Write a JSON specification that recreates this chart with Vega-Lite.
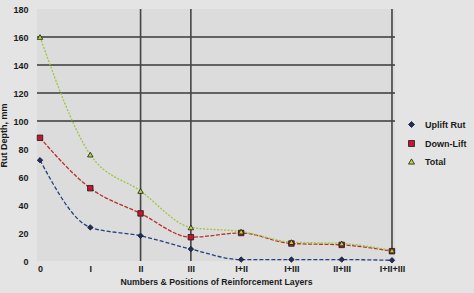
{
  "$schema": "https://vega.github.io/schema/vega-lite/v6.json",
  "autosize": {"type": "none"},
  "width": 358,
  "height": 252,
  "padding": {"left": 37, "top": 9, "right": 79, "bottom": 32},
  "background": "#e4e4e4",
  "config": {
    "view": {"stroke": null, "fill": "#dcdcdc"},
    "font": "Liberation Sans, sans-serif",
    "axis": {"grid": false}
  },
  "datasets": {
    "series": [
      {"layers": "0", "series": "Uplift Rut", "depth": 72},
      {"layers": "I", "series": "Uplift Rut", "depth": 24},
      {"layers": "II", "series": "Uplift Rut", "depth": 18},
      {"layers": "III", "series": "Uplift Rut", "depth": 8.5},
      {"layers": "I+II", "series": "Uplift Rut", "depth": 1},
      {"layers": "I+III", "series": "Uplift Rut", "depth": 1},
      {"layers": "II+III", "series": "Uplift Rut", "depth": 1},
      {"layers": "I+II+III", "series": "Uplift Rut", "depth": 0.5},
      {"layers": "0", "series": "Down-Lift", "depth": 88},
      {"layers": "I", "series": "Down-Lift", "depth": 52},
      {"layers": "II", "series": "Down-Lift", "depth": 34},
      {"layers": "III", "series": "Down-Lift", "depth": 17},
      {"layers": "I+II", "series": "Down-Lift", "depth": 20},
      {"layers": "I+III", "series": "Down-Lift", "depth": 12.5},
      {"layers": "II+III", "series": "Down-Lift", "depth": 11.5},
      {"layers": "I+II+III", "series": "Down-Lift", "depth": 7},
      {"layers": "0", "series": "Total", "depth": 160},
      {"layers": "I", "series": "Total", "depth": 76},
      {"layers": "II", "series": "Total", "depth": 50},
      {"layers": "III", "series": "Total", "depth": 24},
      {"layers": "I+II", "series": "Total", "depth": 21},
      {"layers": "I+III", "series": "Total", "depth": 13.5},
      {"layers": "II+III", "series": "Total", "depth": 12.5},
      {"layers": "I+II+III", "series": "Total", "depth": 7.5}
    ],
    "hgrid": [{"v": 100}, {"v": 120}, {"v": 140}, {"v": 160}],
    "vgrid": [
      {"layers": "II", "top": 180, "bottom": 0},
      {"layers": "III", "top": 180, "bottom": 0},
      {"layers": "I+II+III", "top": 180, "bottom": 7}
    ]
  },
  "encoding": {
    "x": {
      "field": "layers", "type": "ordinal",
      "scale": {"type": "point", "padding": 0.06, "domain": ["0", "I", "II", "III", "I+II", "I+III", "II+III", "I+II+III"]},
      "axis": {
        "title": "Numbers & Positions of Reinforcement Layers",
        "labelAngle": 0, "domain": false, "ticks": false, "grid": false,
        "labelFontSize": 9, "labelFontWeight": "bold", "labelColor": "#1a1a1a", "labelPadding": 3,
        "titleFontSize": 8.7, "titleFontWeight": "bold", "titleColor": "#1a1a1a", "titlePadding": 4
      }
    },
    "y": {
      "type": "quantitative",
      "scale": {"domain": [0, 180]},
      "axis": {
        "title": "Rut Depth, mm",
        "values": [0, 20, 40, 60, 80, 100, 120, 140, 160, 180],
        "grid": false, "domain": false, "ticks": false, "labelOverlap": false,
        "labelFontSize": 9, "labelFontWeight": "bold", "labelColor": "#1a1a1a", "labelPadding": 9,
        "titleFontSize": 9, "titleFontWeight": "bold", "titleColor": "#1a1a1a", "titlePadding": 4
      }
    }
  },
  "layer": [
    {
      "data": {"name": "hgrid"},
      "mark": {"type": "rule", "color": "#3a3a3a", "strokeWidth": 1.6},
      "encoding": {
        "x": {"value": 0}, "x2": {"value": 358},
        "y": {"field": "v", "type": "quantitative"}
      }
    },
    {
      "data": {"name": "vgrid"},
      "mark": {"type": "rule", "color": "#444444", "strokeWidth": 1.6},
      "encoding": {
        "y": {"field": "top", "type": "quantitative"},
        "y2": {"field": "bottom"}
      }
    },
    {
      "data": {"name": "series"},
      "transform": [{"filter": "datum.series === 'Uplift Rut'"}],
      "mark": {"type": "line", "interpolate": "monotone", "strokeWidth": 1.3, "color": "#23407e", "strokeDash": [4, 2]},
      "encoding": {"y": {"field": "depth", "type": "quantitative"}}
    },
    {
      "data": {"name": "series"},
      "transform": [{"filter": "datum.series === 'Down-Lift'"}],
      "mark": {"type": "line", "interpolate": "monotone", "strokeWidth": 1.3, "color": "#b8322a", "strokeDash": [4, 1.5]},
      "encoding": {"y": {"field": "depth", "type": "quantitative"}}
    },
    {
      "data": {"name": "series"},
      "transform": [{"filter": "datum.series === 'Total'"}],
      "mark": {"type": "line", "interpolate": "monotone", "strokeWidth": 1.3, "color": "#9cc83a", "strokeDash": [2, 1.5]},
      "encoding": {"y": {"field": "depth", "type": "quantitative"}}
    },
    {
      "data": {"name": "series"},
      "mark": {"type": "point", "filled": true, "opacity": 1, "strokeWidth": 0.8, "stroke": "#1a1a1a", "size": 30},
      "encoding": {
        "y": {"field": "depth", "type": "quantitative"},
        "fill": {
          "field": "series", "type": "nominal",
          "scale": {"domain": ["Uplift Rut", "Down-Lift", "Total"], "range": ["#1b2e66", "#c8142e", "#b8d63a"]},
          "legend": {
            "title": null, "orient": "none", "legendX": 370, "legendY": 111,
            "labelFontSize": 9, "labelFontWeight": "bold", "labelColor": "#1a1a1a", "labelOffset": 9,
            "rowPadding": 8, "symbolSize": 36, "symbolStrokeColor": "#1a1a1a", "symbolStrokeWidth": 0.8
          }
        },
        "shape": {
          "field": "series", "type": "nominal",
          "scale": {"domain": ["Uplift Rut", "Down-Lift", "Total"], "range": ["diamond", "square", "triangle-up"]},
          "legend": {
            "title": null, "orient": "none", "legendX": 370, "legendY": 111,
            "labelFontSize": 9, "labelFontWeight": "bold", "labelColor": "#1a1a1a", "labelOffset": 9,
            "rowPadding": 8, "symbolSize": 36
          }
        }
      }
    }
  ]
}
